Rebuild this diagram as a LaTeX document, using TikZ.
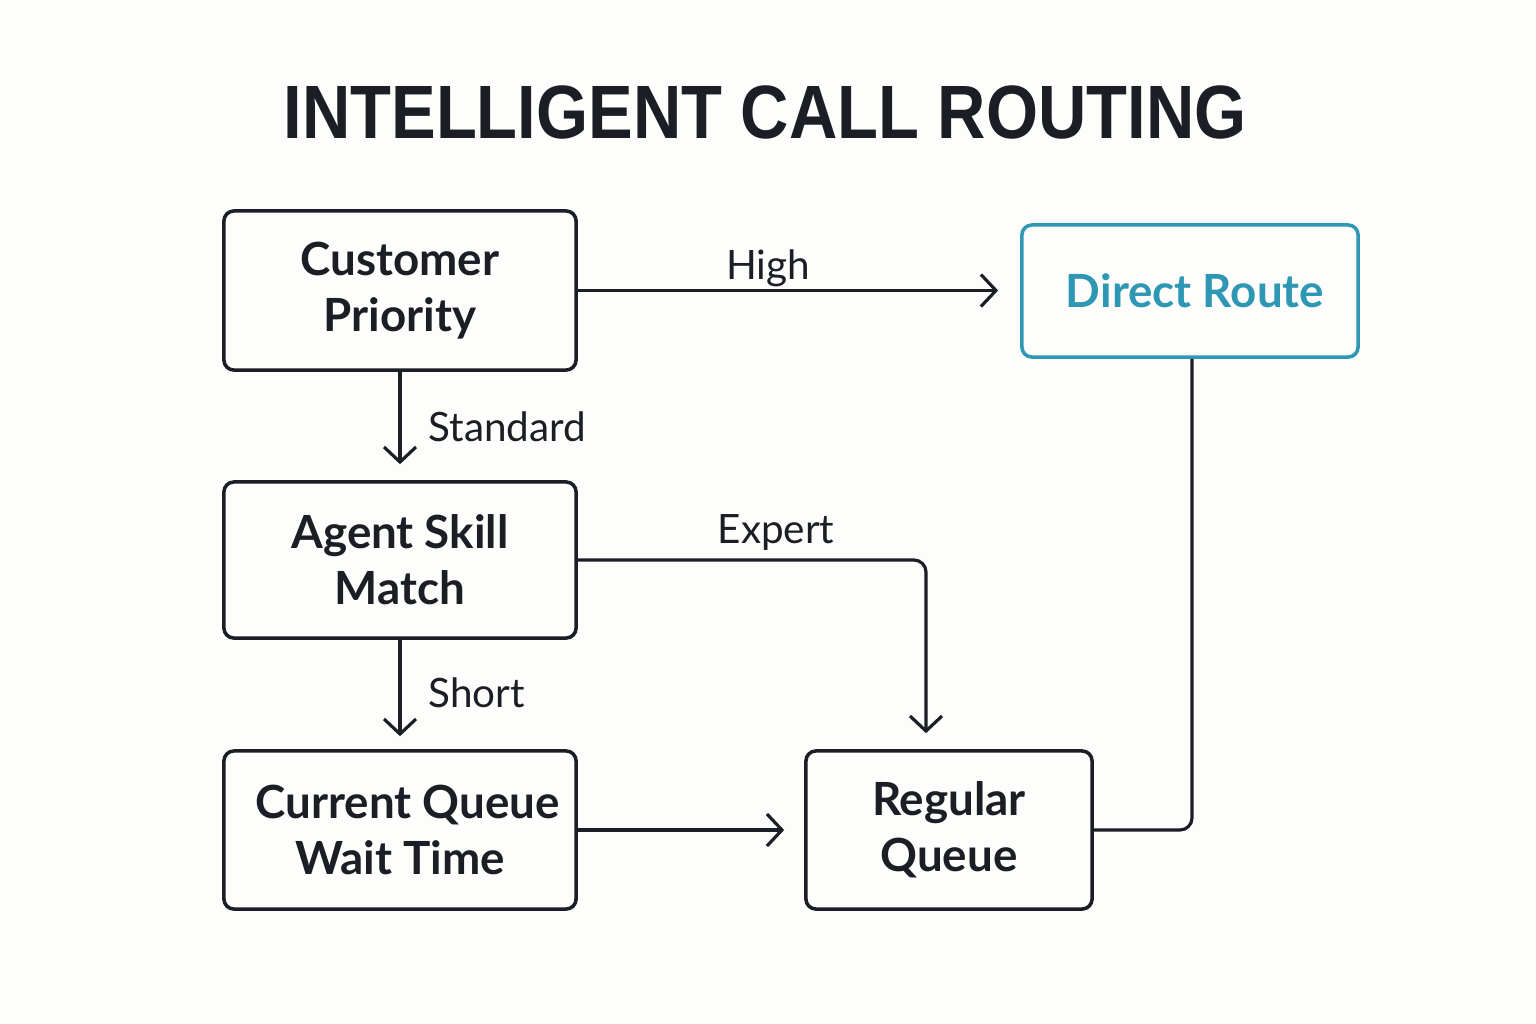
\documentclass[tikz,border=0pt]{standalone}
\usepackage{fontspec}
\setmainfont{Lato}
\newfontfamily\titlefont{Liberation Sans}
\usetikzlibrary{arrows.meta,calc}
\definecolor{ink}{HTML}{1B1E25}
\definecolor{teal}{HTML}{2E97B3}
\definecolor{bg}{HTML}{FDFDFC}
\begin{document}
\begin{tikzpicture}[x=0.01cm,y=-0.01cm,
  box/.style={draw=ink,line width=1pt,rounded corners=0.1cm,align=center,
    font=\fontsize{13pt}{16pt}\selectfont\bfseries,text=ink,inner sep=0pt},
  conn/.style={draw=ink,line width=0.9pt,rounded corners=0.12cm},
  arr/.style={conn,-{Straight Barb[length=1.5mm,width=3.2mm,line width=0.9pt]}},
  lbl/.style={font=\fontsize{11.5pt}{14pt}\selectfont,text=ink,inner sep=0pt}]
\fill[bg] (0,0) rectangle (1536,1024);
\useasboundingbox (0,0) rectangle (1536,1024);
\node[font=\titlefont\fontsize{21.5pt}{26pt}\selectfont\bfseries,text=ink] (title) at (765,112) {\scalebox{0.885}[1]{INTELLIGENT CALL ROUTING}};
\node[box,minimum width=3.52cm,minimum height=1.59cm] (cp) at (400,290.5) {Customer\\Priority};
\node[box,draw=teal,text=teal,minimum width=3.36cm,minimum height=1.32cm] (dr) at (1190,291) {\hspace*{0.1cm}Direct Route};
\node[box,minimum width=3.52cm,minimum height=1.56cm] (asm) at (400,560) {Agent Skill\\Match};
\node[box,minimum width=3.52cm,minimum height=1.58cm] (cq) at (400,830) {\hspace*{0.15cm}Current Queue\\Wait Time};
\node[box,minimum width=2.86cm,minimum height=1.58cm] (rq) at (949,830) {Regular\\Queue};
\draw[arr,shorten >=0.22cm] (cp.east) -- (cp.east -| dr.west);
\draw[arr,shorten >=0.16cm] (cp.south) -- (asm.north);
\draw[arr,shorten >=0.16cm] (asm.east) -| ([xshift=-0.23cm]rq.north);
\draw[arr,shorten >=0.13cm] (asm.south) -- (cq.north);
\draw[arr,shorten >=0.2cm] (cq.east) -- (rq.west);
\draw[conn] (rq.east) -| ([xshift=0.02cm]dr.south);
\node[lbl] (lhigh) at (768,268) {High};
\node[lbl,anchor=west] (lstd) at (428,427) {Standard};
\node[lbl] (lexp) at (776,532) {Expert};
\node[lbl,anchor=west] (lshort) at (428,693) {Short};
\end{tikzpicture}
\end{document}
